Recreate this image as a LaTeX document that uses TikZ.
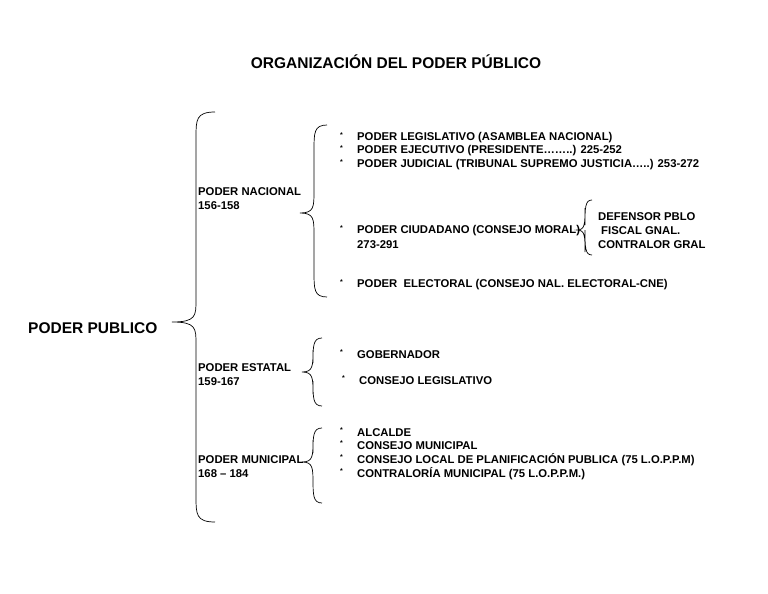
\documentclass[tikz,border=0pt]{standalone}
\usepackage{fontspec}
\setmainfont{Liberation Sans}
\begin{document}
\begin{tikzpicture}[x=1pt,y=-1pt,
  t/.style={anchor=west,inner sep=0pt,font=\bfseries\fontsize{11.3}{12}\selectfont},
  b/.style={anchor=west,inner sep=0pt,font=\bfseries\fontsize{7}{8}\selectfont},
  br/.style={draw=black,line width=0.7pt}]
\useasboundingbox (0,0) rectangle (768,594);
\newcommand\brc[6]{% R M L T C B
  \draw[br] (#1,#4) .. controls (#2,#4) and (#2,#4+8) .. (#2,#4+25) -- (#2,#5-22) .. controls (#2,#5-6) and (#2,#5) .. (#3,#5)
   .. controls (#2,#5) and (#2,#5+6) .. (#2,#5+22) -- (#2,#6-25) .. controls (#2,#6-8) and (#2,#6) .. (#1,#6);}
\node[font=\bfseries\fontsize{15.5}{17}\selectfont] (title) at (396,62) {ORGANIZACIÓN DEL PODER PÚBLICO};
\node[t,font=\bfseries\fontsize{15.5}{17}\selectfont] (pp) at (28,328) {PODER PUBLICO};
\brc{215}{196}{172}{112}{322}{522}
\node[t] (nac) at (198,192) {PODER NACIONAL};
\node[t] (nacn) at (198,206) {156-158};
\brc{327}{314}{300}{125}{213}{297}
\foreach \y/\s [count=\i] in {138/{PODER LEGISLATIVO (ASAMBLEA NACIONAL)},151/{PODER EJECUTIVO (PRESIDENTE……..) 225-252},165/{PODER JUDICIAL (TRIBUNAL SUPREMO JUSTICIA…..) 253-272},231/{PODER CIUDADANO (CONSEJO MORAL)},285/{PODER\ \ ELECTORAL (CONSEJO NAL. ELECTORAL-CNE)}}{
  \node[b] (bn\i) at (340,\y-3) {*};
  \node[t] (n\i) at (357,\y) {\s};}
\node[t] (cn) at (357,245) {273-291};
\brc{592}{585}{577}{200}{230}{255}
\node[t] (def) at (598,217) {DEFENSOR PBLO};
\node[t] (fis) at (601,231) {FISCAL GNAL.};
\node[t] (con) at (598,245) {CONTRALOR GRAL};
\node[t] (est) at (198,368) {PODER ESTATAL};
\node[t] (estn) at (198,382) {159-167};
\brc{322}{313}{302}{338}{372}{406}
\node[b] (be1) at (340,352) {*};
\node[t] (e1) at (357,355) {GOBERNADOR};
\node[b] (be2) at (342,378) {*};
\node[t] (e2) at (359,381) {CONSEJO LEGISLATIVO};
\node[t] (mun) at (198,460) {PODER MUNICIPAL};
\node[t] (munn) at (198,474) {168 – 184};
\brc{322}{313}{302}{428}{462}{503}
\foreach \y/\s [count=\i] in {433/{ALCALDE},446/{CONSEJO MUNICIPAL},460/{CONSEJO LOCAL DE PLANIFICACIÓN PUBLICA (75 L.O.P.P.M)},474/{CONTRALORÍA MUNICIPAL (75 L.O.P.P.M.)}}{
  \node[b] (bm\i) at (340,\y-3) {*};
  \node[t] (m\i) at (357,\y) {\s};}
\end{tikzpicture}
\end{document}
